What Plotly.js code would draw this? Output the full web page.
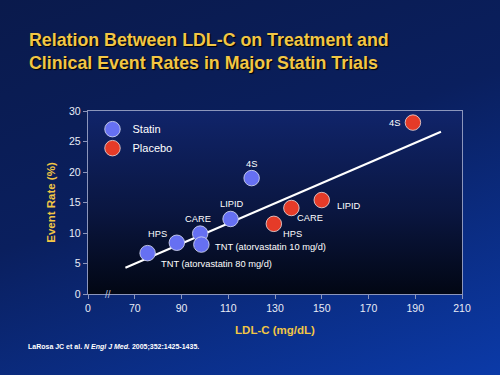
<!DOCTYPE html>
<html>
<head>
<meta charset="utf-8">
<script src="https://cdn.plot.ly/plotly-3.0.1.min.js"></script>
<style>
  html, body { margin: 0; padding: 0; width: 500px; height: 375px; overflow: hidden; }
  body { background: linear-gradient(160deg, #0a1a4c 0%, #0a1f5e 45%, #0b3aa8 100%); position: relative; }
  #plotbg { position: absolute; left: 88px; top: 111px; width: 374px; height: 183px;
            background: linear-gradient(to bottom, #10246a 0%, #0a1640 55%, #020714 100%); }
  #chart { position: absolute; left: 0; top: 0; width: 500px; height: 375px; }
</style>
</head>
<body>
<div id="plotbg"></div>
<div id="chart"></div>
<script>
// Data (x = LDL-C mg/dL, y = event rate %)
const statinLabels = ["TNT (atorvastatin 80 mg/d)", "HPS", "CARE", "TNT (atorvastatin 10 mg/d)", "LIPID", "4S"];
const statinLDL    = [75.5, 88, 98, 98.5, 111, 120];
const statinRate   = [6.7, 8.4, 9.9, 8.1, 12.3, 19.0];

const placeboLabels = ["HPS", "CARE", "LIPID", "4S"];
const placeboLDL    = [129.5, 137, 150, 189];
const placeboRate   = [11.5, 14.1, 15.4, 28.1];

const fitLDL  = [66, 201];
const fitRate = [4.3, 26.6];

// Broken axis: the "0" tick is drawn where 50 would be
const xTickVals = [50, 70, 90, 110, 130, 150, 170, 190, 210];
const xTickText = ["0", "70", "90", "110", "130", "150", "170", "190", "210"];
const yTickVals = [0, 5, 10, 15, 20, 25, 30];

// Label placement (styling): anchor and pixel offsets from each point
const statinAnchor = ["left", "center", "center", "left", "center", "center"];
const statinDX     = [11.5, -19, -2, 11.5, 1.5, 0];
const statinDY     = [-10.5, 8.5, 14.5, -2.5, 15, 14.5];
const placeboAnchor = ["center", "center", "left", "right"];
const placeboDX     = [18.5, 18.5, 13, -10.5];
const placeboDY     = [-10.5, -10.5, -6, 0];

const FONT = '"Liberation Sans", Arial, sans-serif';
const YELLOW = '#F2C645';

const traces = [
  {
    x: fitLDL, y: fitRate, type: 'scatter', mode: 'lines',
    line: { color: '#ffffff', width: 2 }, showlegend: false, hoverinfo: 'skip'
  },
  {
    name: 'Statin', x: statinLDL, y: statinRate, type: 'scatter', mode: 'markers',
    marker: { size: 15.5, color: '#6670F2', line: { color: 'rgba(210,215,240,0.85)', width: 1 } }
  },
  {
    name: 'Placebo', x: placeboLDL, y: placeboRate, type: 'scatter', mode: 'markers',
    marker: { size: 15.5, color: '#E53B28', line: { color: 'rgba(230,210,210,0.85)', width: 1 } }
  }
];

function labelAnns(labels, xs, ys, anchors, dxs, dys) {
  return labels.map((t, i) => ({
    text: t, x: xs[i], y: ys[i], xref: 'x', yref: 'y', showarrow: false,
    xanchor: anchors[i], yanchor: 'middle', xshift: dxs[i], yshift: dys[i],
    font: { family: FONT, size: 9.3, color: '#ffffff' }
  }));
}

const axisCommon = {
  showgrid: false, zeroline: false, showline: true, mirror: true,
  linecolor: '#8c96bc', linewidth: 1.2,
  ticks: 'outside', ticklen: 4, tickcolor: '#8c96bc',
  tickfont: { family: FONT, size: 10.5, color: '#e8ecf6' }
};

const layout = {
  width: 500, height: 375,
  margin: { l: 88, r: 38, t: 111, b: 81 },
  paper_bgcolor: 'rgba(0,0,0,0)', plot_bgcolor: 'rgba(0,0,0,0)',
  title: {
    text: 'Relation Between LDL-C on Treatment and<br>Clinical Event Rates in Major Statin Trials',
    x: 0.058, xanchor: 'left', xref: 'container',
    y: 1 - 46 / 375, yanchor: 'top', yref: 'container',
    font: { family: FONT, size: 17.8, color: YELLOW, weight: 'bold', shadow: '1px 1px 1px #000' }
  },
  xaxis: Object.assign({}, axisCommon, {
    range: [50, 210], tickmode: 'array', tickvals: xTickVals, ticktext: xTickText,
    title: { text: 'LDL-C (mg/dL)', standoff: 13,
             font: { family: FONT, size: 11.5, color: YELLOW, weight: 'bold' } }
  }),
  yaxis: Object.assign({}, axisCommon, {
    range: [0, 30], tickmode: 'array', tickvals: yTickVals,
    title: { text: 'Event Rate (%)', standoff: 11,
             font: { family: FONT, size: 11.5, color: YELLOW, weight: 'bold' } }
  }),
  showlegend: true,
  legend: {
    x: 0.012, xanchor: 'left', y: 0.98, yanchor: 'top',
    bgcolor: 'rgba(0,0,0,0)', borderwidth: 0,
    font: { family: FONT, size: 11, color: '#ffffff' },
    itemwidth: 30, tracegroupgap: 0
  },
  annotations: [].concat(
    labelAnns(statinLabels, statinLDL, statinRate, statinAnchor, statinDX, statinDY),
    labelAnns(placeboLabels, placeboLDL, placeboRate, placeboAnchor, placeboDX, placeboDY),
    [
      {
        text: '//', x: 58.5, y: 0, xref: 'x', yref: 'y', showarrow: false,
        xanchor: 'center', yanchor: 'middle',
        font: { family: FONT, size: 10, color: '#b8c0dc' }
      },
      {
        text: 'LaRosa JC et al. <i>N Engl J Med.</i> 2005;352:1425-1435.',
        xref: 'paper', yref: 'paper', x: -0.165, y: -0.29,
        xanchor: 'left', yanchor: 'middle', showarrow: false,
        font: { family: FONT, size: 7, color: '#ffffff', weight: 'bold' }
      }
    ]
  )
};

Plotly.newPlot('chart', traces, layout, { displayModeBar: false, staticPlot: true });
</script>
</body>
</html>
